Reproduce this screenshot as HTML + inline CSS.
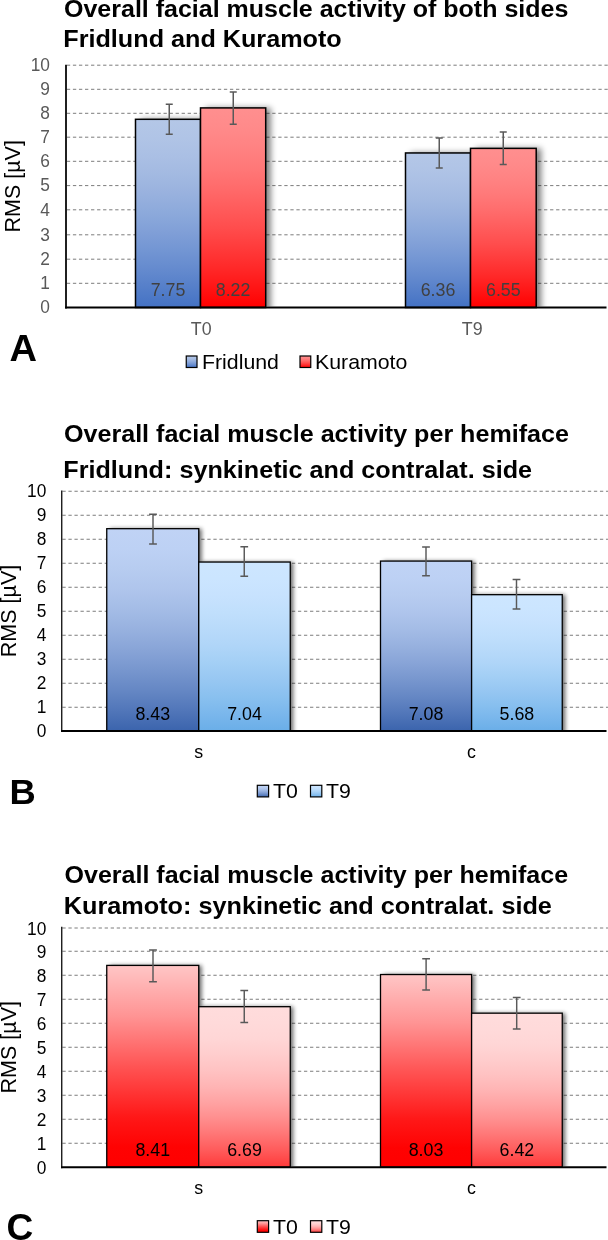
<!DOCTYPE html>
<html lang="en"><head><meta charset="utf-8"><title>Overall facial muscle activity</title>
<style>
html,body{margin:0;padding:0;background:#fff;}
body{width:608px;height:1240px;overflow:hidden;font-family:"Liberation Sans", sans-serif;}
svg{display:block;}
</style></head><body>
<svg width="608" height="1240" viewBox="0 0 608 1240" font-family='"Liberation Sans", sans-serif' shape-rendering="auto">
<defs>
<filter id="sh" x="-20%" y="-20%" width="150%" height="140%"><feGaussianBlur stdDeviation="3"/><feOffset dx="5" dy="0.3"/><feComponentTransfer><feFuncA type="linear" slope="0.5"/></feComponentTransfer></filter>
<filter id="sh2" x="-20%" y="-20%" width="150%" height="140%"><feGaussianBlur stdDeviation="2"/><feOffset dx="3.3" dy="0.3"/><feComponentTransfer><feFuncA type="linear" slope="0.58"/></feComponentTransfer></filter>
<linearGradient id="aB" x1="0" y1="0" x2="0" y2="1"><stop offset="0.00" stop-color="#b4c7e7"/><stop offset="0.10" stop-color="#b0c4e6"/><stop offset="0.20" stop-color="#aabfe4"/><stop offset="0.30" stop-color="#a2b9e1"/><stop offset="0.40" stop-color="#98b1de"/><stop offset="0.50" stop-color="#8ca9db"/><stop offset="0.60" stop-color="#809fd7"/><stop offset="0.70" stop-color="#7295d3"/><stop offset="0.80" stop-color="#648ace"/><stop offset="0.90" stop-color="#547ec9"/><stop offset="1.00" stop-color="#4472c4"/></linearGradient>
<linearGradient id="aR" x1="0" y1="0" x2="0" y2="1"><stop offset="0.00" stop-color="#ff8f8f"/><stop offset="0.10" stop-color="#ff8a8a"/><stop offset="0.20" stop-color="#ff8282"/><stop offset="0.30" stop-color="#ff7878"/><stop offset="0.40" stop-color="#ff6b6b"/><stop offset="0.50" stop-color="#ff5c5c"/><stop offset="0.60" stop-color="#ff4d4d"/><stop offset="0.70" stop-color="#ff3b3b"/><stop offset="0.80" stop-color="#ff2929"/><stop offset="0.90" stop-color="#ff1515"/><stop offset="1.00" stop-color="#ff0000"/></linearGradient>
<linearGradient id="bD" x1="0" y1="0" x2="0" y2="1"><stop offset="0.00" stop-color="#c0d3f5"/><stop offset="0.10" stop-color="#bdd1f4"/><stop offset="0.20" stop-color="#b7ccf0"/><stop offset="0.30" stop-color="#afc5ec"/><stop offset="0.40" stop-color="#a4bce6"/><stop offset="0.50" stop-color="#97b1df"/><stop offset="0.60" stop-color="#88a4d7"/><stop offset="0.70" stop-color="#7796ce"/><stop offset="0.80" stop-color="#6587c4"/><stop offset="0.90" stop-color="#5176b9"/><stop offset="1.00" stop-color="#3b64ad"/></linearGradient>
<linearGradient id="bL" x1="0" y1="0" x2="0" y2="1"><stop offset="0.00" stop-color="#cde6ff"/><stop offset="0.10" stop-color="#cbe5ff"/><stop offset="0.20" stop-color="#c7e2fe"/><stop offset="0.30" stop-color="#c0dffc"/><stop offset="0.40" stop-color="#b8dafa"/><stop offset="0.50" stop-color="#afd5f8"/><stop offset="0.60" stop-color="#a3cff5"/><stop offset="0.70" stop-color="#97c7f2"/><stop offset="0.80" stop-color="#89c0ef"/><stop offset="0.90" stop-color="#7ab7ec"/><stop offset="1.00" stop-color="#6aaee8"/></linearGradient>
<linearGradient id="cD" x1="0" y1="0" x2="0" y2="1"><stop offset="0" stop-color="#ffc6c6"/><stop offset="0.25" stop-color="#ff9494"/><stop offset="0.5" stop-color="#ff5454"/><stop offset="0.75" stop-color="#ff1818"/><stop offset="0.9" stop-color="#ff0202"/><stop offset="1" stop-color="#ff0000"/></linearGradient>
<linearGradient id="cL" x1="0" y1="0" x2="0" y2="1"><stop offset="0.00" stop-color="#ffdcdc"/><stop offset="0.10" stop-color="#ffdada"/><stop offset="0.20" stop-color="#ffd6d6"/><stop offset="0.30" stop-color="#ffcdcd"/><stop offset="0.40" stop-color="#ffc2c2"/><stop offset="0.50" stop-color="#ffb4b4"/><stop offset="0.60" stop-color="#ffa2a2"/><stop offset="0.70" stop-color="#ff8d8d"/><stop offset="0.80" stop-color="#ff7474"/><stop offset="0.90" stop-color="#ff5959"/><stop offset="1.00" stop-color="#ff3a3a"/></linearGradient>
</defs>
<rect width="608" height="1240" fill="#fff"/>
<line x1="66.88" x2="608" y1="283.30" y2="283.30" stroke="#7c7c7c" stroke-width="1" stroke-dasharray="3.3 2.74"/>
<line x1="66.88" x2="608" y1="259.20" y2="259.20" stroke="#7c7c7c" stroke-width="1" stroke-dasharray="3.3 2.74"/>
<line x1="66.88" x2="608" y1="234.80" y2="234.80" stroke="#7c7c7c" stroke-width="1" stroke-dasharray="3.3 2.74"/>
<line x1="66.88" x2="608" y1="209.80" y2="209.80" stroke="#7c7c7c" stroke-width="1" stroke-dasharray="3.3 2.74"/>
<line x1="66.88" x2="608" y1="185.60" y2="185.60" stroke="#7c7c7c" stroke-width="1" stroke-dasharray="3.3 2.74"/>
<line x1="66.88" x2="608" y1="161.30" y2="161.30" stroke="#7c7c7c" stroke-width="1" stroke-dasharray="3.3 2.74"/>
<line x1="66.88" x2="608" y1="137.20" y2="137.20" stroke="#7c7c7c" stroke-width="1" stroke-dasharray="3.3 2.74"/>
<line x1="66.88" x2="608" y1="113.30" y2="113.30" stroke="#7c7c7c" stroke-width="1" stroke-dasharray="3.3 2.74"/>
<line x1="66.88" x2="608" y1="89.30" y2="89.30" stroke="#7c7c7c" stroke-width="1" stroke-dasharray="3.3 2.74"/>
<line x1="66.88" x2="608" y1="65.20" y2="65.20" stroke="#7c7c7c" stroke-width="1" stroke-dasharray="3.3 2.74"/>
<text transform="translate(50.00,312.60) scale(0.985,1)" font-size="17.6" fill="#595959" text-anchor="end">0</text>
<text transform="translate(50.00,289.10) scale(0.985,1)" font-size="17.6" fill="#595959" text-anchor="end">1</text>
<text transform="translate(50.00,265.00) scale(0.985,1)" font-size="17.6" fill="#595959" text-anchor="end">2</text>
<text transform="translate(50.00,240.60) scale(0.985,1)" font-size="17.6" fill="#595959" text-anchor="end">3</text>
<text transform="translate(50.00,215.60) scale(0.985,1)" font-size="17.6" fill="#595959" text-anchor="end">4</text>
<text transform="translate(50.00,191.40) scale(0.985,1)" font-size="17.6" fill="#595959" text-anchor="end">5</text>
<text transform="translate(50.00,167.10) scale(0.985,1)" font-size="17.6" fill="#595959" text-anchor="end">6</text>
<text transform="translate(50.00,143.00) scale(0.985,1)" font-size="17.6" fill="#595959" text-anchor="end">7</text>
<text transform="translate(50.00,119.10) scale(0.985,1)" font-size="17.6" fill="#595959" text-anchor="end">8</text>
<text transform="translate(50.00,95.10) scale(0.985,1)" font-size="17.6" fill="#595959" text-anchor="end">9</text>
<text transform="translate(50.00,71.00) scale(0.985,1)" font-size="17.6" fill="#595959" text-anchor="end">10</text>
<text transform="translate(20.00,186.30) rotate(-90) scale(1,1.05)" font-size="21.5" fill="#000" text-anchor="middle">RMS [µV]</text>
<clipPath id="cl307"><rect x="0" y="41.08" width="608" height="265.42"/></clipPath>
<g clip-path="url(#cl307)">
<rect x="135.50" y="119.30" width="65.00" height="200.20" fill="#000" filter="url(#sh)"/>
<rect x="200.50" y="107.91" width="65.20" height="211.59" fill="#000" filter="url(#sh)"/>
<rect x="405.50" y="152.96" width="65.00" height="166.54" fill="#000" filter="url(#sh)"/>
<rect x="470.50" y="148.36" width="65.70" height="171.14" fill="#000" filter="url(#sh)"/>
</g>
<rect x="135.50" y="119.30" width="65.00" height="188.20" fill="url(#aB)" stroke="#000" stroke-width="1.5"/>
<rect x="200.50" y="107.91" width="65.20" height="199.59" fill="url(#aR)" stroke="#000" stroke-width="1.5"/>
<rect x="405.50" y="152.96" width="65.00" height="154.54" fill="url(#aB)" stroke="#000" stroke-width="1.5"/>
<rect x="470.50" y="148.36" width="65.70" height="159.14" fill="url(#aR)" stroke="#000" stroke-width="1.5"/>
<line x1="66.00" x2="66.00" y1="64.80" y2="308.50" stroke="#000" stroke-width="1.75"/>
<line x1="65.12" x2="606.5" y1="307.50" y2="307.50" stroke="#000" stroke-width="2"/>
<path d="M169.25 104.25V134.25M165.75 104.25H172.75M165.75 134.25H172.75" stroke="#595959" stroke-width="1.5" fill="none"/>
<path d="M233.25 92.00V124.25M229.75 92.00H236.75M229.75 124.25H236.75" stroke="#595959" stroke-width="1.5" fill="none"/>
<path d="M439.25 138.00V168.00M435.75 138.00H442.75M435.75 168.00H442.75" stroke="#595959" stroke-width="1.5" fill="none"/>
<path d="M503.25 132.00V164.50M499.75 132.00H506.75M499.75 164.50H506.75" stroke="#595959" stroke-width="1.5" fill="none"/>
<text transform="translate(168.00,296.20) scale(0.98,1)" font-size="18.2" fill="#404040" text-anchor="middle">7.75</text>
<text transform="translate(233.10,296.20) scale(0.98,1)" font-size="18.2" fill="#404040" text-anchor="middle">8.22</text>
<text transform="translate(438.00,296.20) scale(0.98,1)" font-size="18.2" fill="#404040" text-anchor="middle">6.36</text>
<text transform="translate(503.35,296.20) scale(0.98,1)" font-size="18.2" fill="#404040" text-anchor="middle">6.55</text>
<text transform="translate(201.20,334.50) scale(0.98,1)" font-size="18.2" fill="#595959" text-anchor="middle">T0</text>
<text transform="translate(472.20,334.50) scale(0.98,1)" font-size="18.2" fill="#595959" text-anchor="middle">T9</text>
<rect x="186.25" y="356.00" width="10.75" height="11.50" fill="url(#aB)" stroke="#000" stroke-width="1.2"/>
<text transform="translate(202.00,368.50) scale(1.055,1)" font-size="20.2" fill="#000" text-anchor="start">Fridlund</text>
<rect x="300.00" y="356.00" width="10.75" height="11.50" fill="url(#aR)" stroke="#000" stroke-width="1.2"/>
<text transform="translate(315.00,368.50) scale(1.055,1)" font-size="20.2" fill="#000" text-anchor="start">Kuramoto</text>
<text transform="translate(64.00,17.40) scale(1.042,1)" font-size="24" fill="#000" text-anchor="start" font-weight="bold">Overall facial muscle activity of both sides</text>
<text transform="translate(63.30,47.00) scale(1.05,1)" font-size="24" fill="#000" text-anchor="start" font-weight="bold">Fridlund and Kuramoto</text>
<text transform="translate(9.50,360.75) scale(1.03,1)" font-size="37" fill="#000" text-anchor="start" font-weight="bold">A</text>
<line x1="62.38" x2="608" y1="707.25" y2="707.25" stroke="#7c7c7c" stroke-width="1" stroke-dasharray="3.3 2.74"/>
<line x1="62.38" x2="608" y1="683.25" y2="683.25" stroke="#7c7c7c" stroke-width="1" stroke-dasharray="3.3 2.74"/>
<line x1="62.38" x2="608" y1="659.25" y2="659.25" stroke="#7c7c7c" stroke-width="1" stroke-dasharray="3.3 2.74"/>
<line x1="62.38" x2="608" y1="635.25" y2="635.25" stroke="#7c7c7c" stroke-width="1" stroke-dasharray="3.3 2.74"/>
<line x1="62.38" x2="608" y1="611.25" y2="611.25" stroke="#7c7c7c" stroke-width="1" stroke-dasharray="3.3 2.74"/>
<line x1="62.38" x2="608" y1="587.25" y2="587.25" stroke="#7c7c7c" stroke-width="1" stroke-dasharray="3.3 2.74"/>
<line x1="62.38" x2="608" y1="563.25" y2="563.25" stroke="#7c7c7c" stroke-width="1" stroke-dasharray="3.3 2.74"/>
<line x1="62.38" x2="608" y1="539.25" y2="539.25" stroke="#7c7c7c" stroke-width="1" stroke-dasharray="3.3 2.74"/>
<line x1="62.38" x2="608" y1="515.25" y2="515.25" stroke="#7c7c7c" stroke-width="1" stroke-dasharray="3.3 2.74"/>
<line x1="62.38" x2="608" y1="491.25" y2="491.25" stroke="#7c7c7c" stroke-width="1" stroke-dasharray="3.3 2.74"/>
<text transform="translate(46.30,737.20) scale(0.985,1)" font-size="17.6" fill="#000" text-anchor="end">0</text>
<text transform="translate(46.30,713.20) scale(0.985,1)" font-size="17.6" fill="#000" text-anchor="end">1</text>
<text transform="translate(46.30,689.20) scale(0.985,1)" font-size="17.6" fill="#000" text-anchor="end">2</text>
<text transform="translate(46.30,665.20) scale(0.985,1)" font-size="17.6" fill="#000" text-anchor="end">3</text>
<text transform="translate(46.30,641.20) scale(0.985,1)" font-size="17.6" fill="#000" text-anchor="end">4</text>
<text transform="translate(46.30,617.20) scale(0.985,1)" font-size="17.6" fill="#000" text-anchor="end">5</text>
<text transform="translate(46.30,593.20) scale(0.985,1)" font-size="17.6" fill="#000" text-anchor="end">6</text>
<text transform="translate(46.30,569.20) scale(0.985,1)" font-size="17.6" fill="#000" text-anchor="end">7</text>
<text transform="translate(46.30,545.20) scale(0.985,1)" font-size="17.6" fill="#000" text-anchor="end">8</text>
<text transform="translate(46.30,521.20) scale(0.985,1)" font-size="17.6" fill="#000" text-anchor="end">9</text>
<text transform="translate(46.30,497.20) scale(0.985,1)" font-size="17.6" fill="#000" text-anchor="end">10</text>
<text transform="translate(16.30,611.00) rotate(-90) scale(1,1.05)" font-size="21.5" fill="#000" text-anchor="middle">RMS [µV]</text>
<clipPath id="cl731"><rect x="0" y="467.00" width="608" height="263.00"/></clipPath>
<g clip-path="url(#cl731)">
<rect x="106.75" y="528.68" width="92.00" height="214.32" fill="#000" filter="url(#sh2)"/>
<rect x="198.75" y="562.04" width="91.50" height="180.96" fill="#000" filter="url(#sh2)"/>
<rect x="380.50" y="561.08" width="91.10" height="181.92" fill="#000" filter="url(#sh2)"/>
<rect x="471.60" y="594.68" width="90.65" height="148.32" fill="#000" filter="url(#sh2)"/>
</g>
<rect x="106.75" y="528.68" width="92.00" height="202.32" fill="url(#bD)" stroke="#000" stroke-width="1.3"/>
<rect x="198.75" y="562.04" width="91.50" height="168.96" fill="url(#bL)" stroke="#000" stroke-width="1.3"/>
<rect x="380.50" y="561.08" width="91.10" height="169.92" fill="url(#bD)" stroke="#000" stroke-width="1.3"/>
<rect x="471.60" y="594.68" width="90.65" height="136.32" fill="url(#bL)" stroke="#000" stroke-width="1.3"/>
<line x1="61.75" x2="61.75" y1="490.50" y2="732.00" stroke="#000" stroke-width="1.25"/>
<line x1="61.12" x2="606.5" y1="731.00" y2="731.00" stroke="#000" stroke-width="2"/>
<path d="M153.00 514.25V544.00M149.12 514.25H156.88M149.12 544.00H156.88" stroke="#595959" stroke-width="1.45" fill="none"/>
<path d="M244.25 546.75V576.25M240.38 546.75H248.12M240.38 576.25H248.12" stroke="#595959" stroke-width="1.45" fill="none"/>
<path d="M426.00 547.00V575.75M422.12 547.00H429.88M422.12 575.75H429.88" stroke="#595959" stroke-width="1.45" fill="none"/>
<path d="M516.50 579.50V609.00M512.62 579.50H520.38M512.62 609.00H520.38" stroke="#595959" stroke-width="1.45" fill="none"/>
<text transform="translate(152.75,720.00) scale(0.98,1)" font-size="18.2" fill="#000" text-anchor="middle">8.43</text>
<text transform="translate(244.50,720.00) scale(0.98,1)" font-size="18.2" fill="#000" text-anchor="middle">7.04</text>
<text transform="translate(426.05,720.00) scale(0.98,1)" font-size="18.2" fill="#000" text-anchor="middle">7.08</text>
<text transform="translate(516.92,720.00) scale(0.98,1)" font-size="18.2" fill="#000" text-anchor="middle">5.68</text>
<text transform="translate(198.60,757.50) scale(0.98,1)" font-size="18.2" fill="#000" text-anchor="middle">s</text>
<text transform="translate(471.40,757.50) scale(0.98,1)" font-size="18.2" fill="#000" text-anchor="middle">c</text>
<rect x="257.30" y="785.30" width="11.30" height="11.60" fill="url(#bD)" stroke="#000" stroke-width="1.2"/>
<text transform="translate(273.00,797.70) scale(1.055,1)" font-size="20.2" fill="#000" text-anchor="start">T0</text>
<rect x="310.50" y="785.30" width="11.30" height="11.60" fill="url(#bL)" stroke="#000" stroke-width="1.2"/>
<text transform="translate(326.10,797.70) scale(1.055,1)" font-size="20.2" fill="#000" text-anchor="start">T9</text>
<text transform="translate(64.00,442.10) scale(1.046,1)" font-size="24" fill="#000" text-anchor="start" font-weight="bold">Overall facial muscle activity per hemiface</text>
<text transform="translate(63.30,477.50) scale(1.0496,1)" font-size="24" fill="#000" text-anchor="start" font-weight="bold">Fridlund: synkinetic and contralat. side</text>
<text transform="translate(9.40,803.75) scale(1.03,1)" font-size="35.3" fill="#000" text-anchor="start" font-weight="bold">B</text>
<line x1="62.38" x2="608" y1="1143.25" y2="1143.25" stroke="#7c7c7c" stroke-width="1" stroke-dasharray="3.3 2.74"/>
<line x1="62.38" x2="608" y1="1119.25" y2="1119.25" stroke="#7c7c7c" stroke-width="1" stroke-dasharray="3.3 2.74"/>
<line x1="62.38" x2="608" y1="1095.25" y2="1095.25" stroke="#7c7c7c" stroke-width="1" stroke-dasharray="3.3 2.74"/>
<line x1="62.38" x2="608" y1="1071.25" y2="1071.25" stroke="#7c7c7c" stroke-width="1" stroke-dasharray="3.3 2.74"/>
<line x1="62.38" x2="608" y1="1047.25" y2="1047.25" stroke="#7c7c7c" stroke-width="1" stroke-dasharray="3.3 2.74"/>
<line x1="62.38" x2="608" y1="1023.25" y2="1023.25" stroke="#7c7c7c" stroke-width="1" stroke-dasharray="3.3 2.74"/>
<line x1="62.38" x2="608" y1="999.25" y2="999.25" stroke="#7c7c7c" stroke-width="1" stroke-dasharray="3.3 2.74"/>
<line x1="62.38" x2="608" y1="975.25" y2="975.25" stroke="#7c7c7c" stroke-width="1" stroke-dasharray="3.3 2.74"/>
<line x1="62.38" x2="608" y1="951.25" y2="951.25" stroke="#7c7c7c" stroke-width="1" stroke-dasharray="3.3 2.74"/>
<line x1="62.38" x2="608" y1="928.00" y2="928.00" stroke="#7c7c7c" stroke-width="1" stroke-dasharray="3.3 2.74"/>
<text transform="translate(46.30,1173.85) scale(0.985,1)" font-size="17.6" fill="#000" text-anchor="end">0</text>
<text transform="translate(46.30,1149.85) scale(0.985,1)" font-size="17.6" fill="#000" text-anchor="end">1</text>
<text transform="translate(46.30,1125.85) scale(0.985,1)" font-size="17.6" fill="#000" text-anchor="end">2</text>
<text transform="translate(46.30,1101.85) scale(0.985,1)" font-size="17.6" fill="#000" text-anchor="end">3</text>
<text transform="translate(46.30,1077.85) scale(0.985,1)" font-size="17.6" fill="#000" text-anchor="end">4</text>
<text transform="translate(46.30,1053.85) scale(0.985,1)" font-size="17.6" fill="#000" text-anchor="end">5</text>
<text transform="translate(46.30,1029.85) scale(0.985,1)" font-size="17.6" fill="#000" text-anchor="end">6</text>
<text transform="translate(46.30,1005.85) scale(0.985,1)" font-size="17.6" fill="#000" text-anchor="end">7</text>
<text transform="translate(46.30,981.85) scale(0.985,1)" font-size="17.6" fill="#000" text-anchor="end">8</text>
<text transform="translate(46.30,957.85) scale(0.985,1)" font-size="17.6" fill="#000" text-anchor="end">9</text>
<text transform="translate(46.30,934.60) scale(0.985,1)" font-size="17.6" fill="#000" text-anchor="end">10</text>
<text transform="translate(16.30,1047.25) rotate(-90) scale(1,1.05)" font-size="21.5" fill="#000" text-anchor="middle">RMS [µV]</text>
<clipPath id="cl1167"><rect x="0" y="903.25" width="608" height="263.00"/></clipPath>
<g clip-path="url(#cl1167)">
<rect x="106.75" y="965.41" width="92.00" height="213.84" fill="#000" filter="url(#sh2)"/>
<rect x="198.75" y="1006.69" width="91.50" height="172.56" fill="#000" filter="url(#sh2)"/>
<rect x="380.50" y="974.53" width="91.10" height="204.72" fill="#000" filter="url(#sh2)"/>
<rect x="471.60" y="1013.17" width="90.65" height="166.08" fill="#000" filter="url(#sh2)"/>
</g>
<rect x="106.75" y="965.41" width="92.00" height="201.84" fill="url(#cD)" stroke="#000" stroke-width="1.3"/>
<rect x="198.75" y="1006.69" width="91.50" height="160.56" fill="url(#cL)" stroke="#000" stroke-width="1.3"/>
<rect x="380.50" y="974.53" width="91.10" height="192.72" fill="url(#cD)" stroke="#000" stroke-width="1.3"/>
<rect x="471.60" y="1013.17" width="90.65" height="154.08" fill="url(#cL)" stroke="#000" stroke-width="1.3"/>
<line x1="61.75" x2="61.75" y1="926.75" y2="1168.25" stroke="#000" stroke-width="1.25"/>
<line x1="61.12" x2="606.5" y1="1167.25" y2="1167.25" stroke="#000" stroke-width="2"/>
<path d="M153.00 950.00V981.75M149.12 950.00H156.88M149.12 981.75H156.88" stroke="#595959" stroke-width="1.45" fill="none"/>
<path d="M244.25 990.50V1022.50M240.38 990.50H248.12M240.38 1022.50H248.12" stroke="#595959" stroke-width="1.45" fill="none"/>
<path d="M426.10 958.70V990.00M422.23 958.70H429.98M422.23 990.00H429.98" stroke="#595959" stroke-width="1.45" fill="none"/>
<path d="M516.70 997.40V1028.90M512.83 997.40H520.58M512.83 1028.90H520.58" stroke="#595959" stroke-width="1.45" fill="none"/>
<text transform="translate(152.75,1156.25) scale(0.98,1)" font-size="18.2" fill="#000" text-anchor="middle">8.41</text>
<text transform="translate(244.50,1156.25) scale(0.98,1)" font-size="18.2" fill="#000" text-anchor="middle">6.69</text>
<text transform="translate(426.05,1156.25) scale(0.98,1)" font-size="18.2" fill="#000" text-anchor="middle">8.03</text>
<text transform="translate(516.92,1156.25) scale(0.98,1)" font-size="18.2" fill="#000" text-anchor="middle">6.42</text>
<text transform="translate(198.60,1193.75) scale(0.98,1)" font-size="18.2" fill="#000" text-anchor="middle">s</text>
<text transform="translate(471.40,1193.75) scale(0.98,1)" font-size="18.2" fill="#000" text-anchor="middle">c</text>
<rect x="257.30" y="1220.70" width="11.30" height="11.60" fill="url(#cD)" stroke="#000" stroke-width="1.2"/>
<text transform="translate(273.00,1233.50) scale(1.055,1)" font-size="20.2" fill="#000" text-anchor="start">T0</text>
<rect x="310.50" y="1220.70" width="11.30" height="11.60" fill="url(#cL)" stroke="#000" stroke-width="1.2"/>
<text transform="translate(326.10,1233.50) scale(1.055,1)" font-size="20.2" fill="#000" text-anchor="start">T9</text>
<text transform="translate(64.50,883.40) scale(1.043,1)" font-size="24" fill="#000" text-anchor="start" font-weight="bold">Overall facial muscle activity per hemiface</text>
<text transform="translate(63.80,914.30) scale(1.052,1)" font-size="24" fill="#000" text-anchor="start" font-weight="bold">Kuramoto: synkinetic and contralat. side</text>
<text transform="translate(6.40,1239.60) scale(1.03,1)" font-size="36" fill="#000" text-anchor="start" font-weight="bold">C</text>
</svg>
</body></html>
